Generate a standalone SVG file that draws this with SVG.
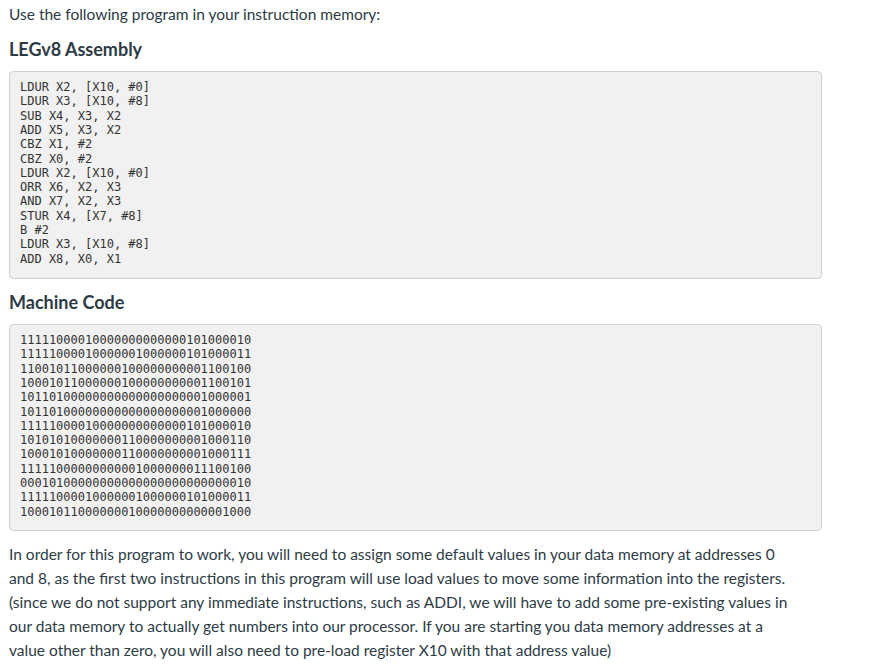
<svg xmlns="http://www.w3.org/2000/svg" width="889" height="671" viewBox="0 0 889 671">
<style>
.p{font-family:Lato,"Open Sans",sans-serif;font-size:15.5px;fill:#2d3b45}
.h{font-family:Lato,"Open Sans",sans-serif;font-size:18px;font-weight:bold;fill:#2d3b45}
.m{font-family:"DejaVu Sans Mono",monospace;font-size:12px;fill:#333}
.box{fill:#f1f1f1;stroke:#cfcfcf;stroke-width:1}
</style>
<rect width="889" height="671" fill="#fff"/>
<text class="p" x="9" y="20">Use the following program in your instruction memory:</text>
<text class="h" x="9" y="56">LEGv8 Assembly</text>
<rect class="box" x="9.5" y="71.5" width="812" height="207" rx="4"/>
<g class="m">
<text x="20" y="91">LDUR X2, [X10, #0]</text>
<text x="20" y="105.3">LDUR X3, [X10, #8]</text>
<text x="20" y="119.6">SUB X4, X3, X2</text>
<text x="20" y="133.9">ADD X5, X3, X2</text>
<text x="20" y="148.2">CBZ X1, #2</text>
<text x="20" y="162.5">CBZ X0, #2</text>
<text x="20" y="176.8">LDUR X2, [X10, #0]</text>
<text x="20" y="191.1">ORR X6, X2, X3</text>
<text x="20" y="205.4">AND X7, X2, X3</text>
<text x="20" y="219.7">STUR X4, [X7, #8]</text>
<text x="20" y="234">B #2</text>
<text x="20" y="248.3">LDUR X3, [X10, #8]</text>
<text x="20" y="262.6">ADD X8, X0, X1</text>
</g>
<text class="h" x="9" y="309">Machine Code</text>
<rect class="box" x="9.5" y="324.5" width="812" height="206" rx="4"/>
<g class="m">
<text x="20" y="344">11111000010000000000000101000010</text>
<text x="20" y="358.3">11111000010000001000000101000011</text>
<text x="20" y="372.6">11001011000000100000000001100100</text>
<text x="20" y="386.9">10001011000000100000000001100101</text>
<text x="20" y="401.2">10110100000000000000000001000001</text>
<text x="20" y="415.5">10110100000000000000000001000000</text>
<text x="20" y="429.8">11111000010000000000000101000010</text>
<text x="20" y="444.1">10101010000000110000000001000110</text>
<text x="20" y="458.4">10001010000000110000000001000111</text>
<text x="20" y="472.7">11111000000000001000000011100100</text>
<text x="20" y="487">00010100000000000000000000000010</text>
<text x="20" y="501.3">11111000010000001000000101000011</text>
<text x="20" y="515.6">10001011000000010000000000001000</text>
</g>
<g class="p">
<text x="9" y="560">In order for this program to work, you will need to assign some default values in your data memory at addresses 0</text>
<text x="9" y="584">and 8, as the first two instructions in this program will use load values to move some information into the registers.</text>
<text x="9" y="608">(since we do not support any immediate instructions, such as ADDI,  we will have to add some pre-existing values in</text>
<text x="9" y="632">our data memory to actually get numbers into our processor. If you are starting you data memory addresses at a</text>
<text x="9" y="656">value other than zero, you will also need to pre-load register X10 with that address value)</text>
</g>
</svg>
